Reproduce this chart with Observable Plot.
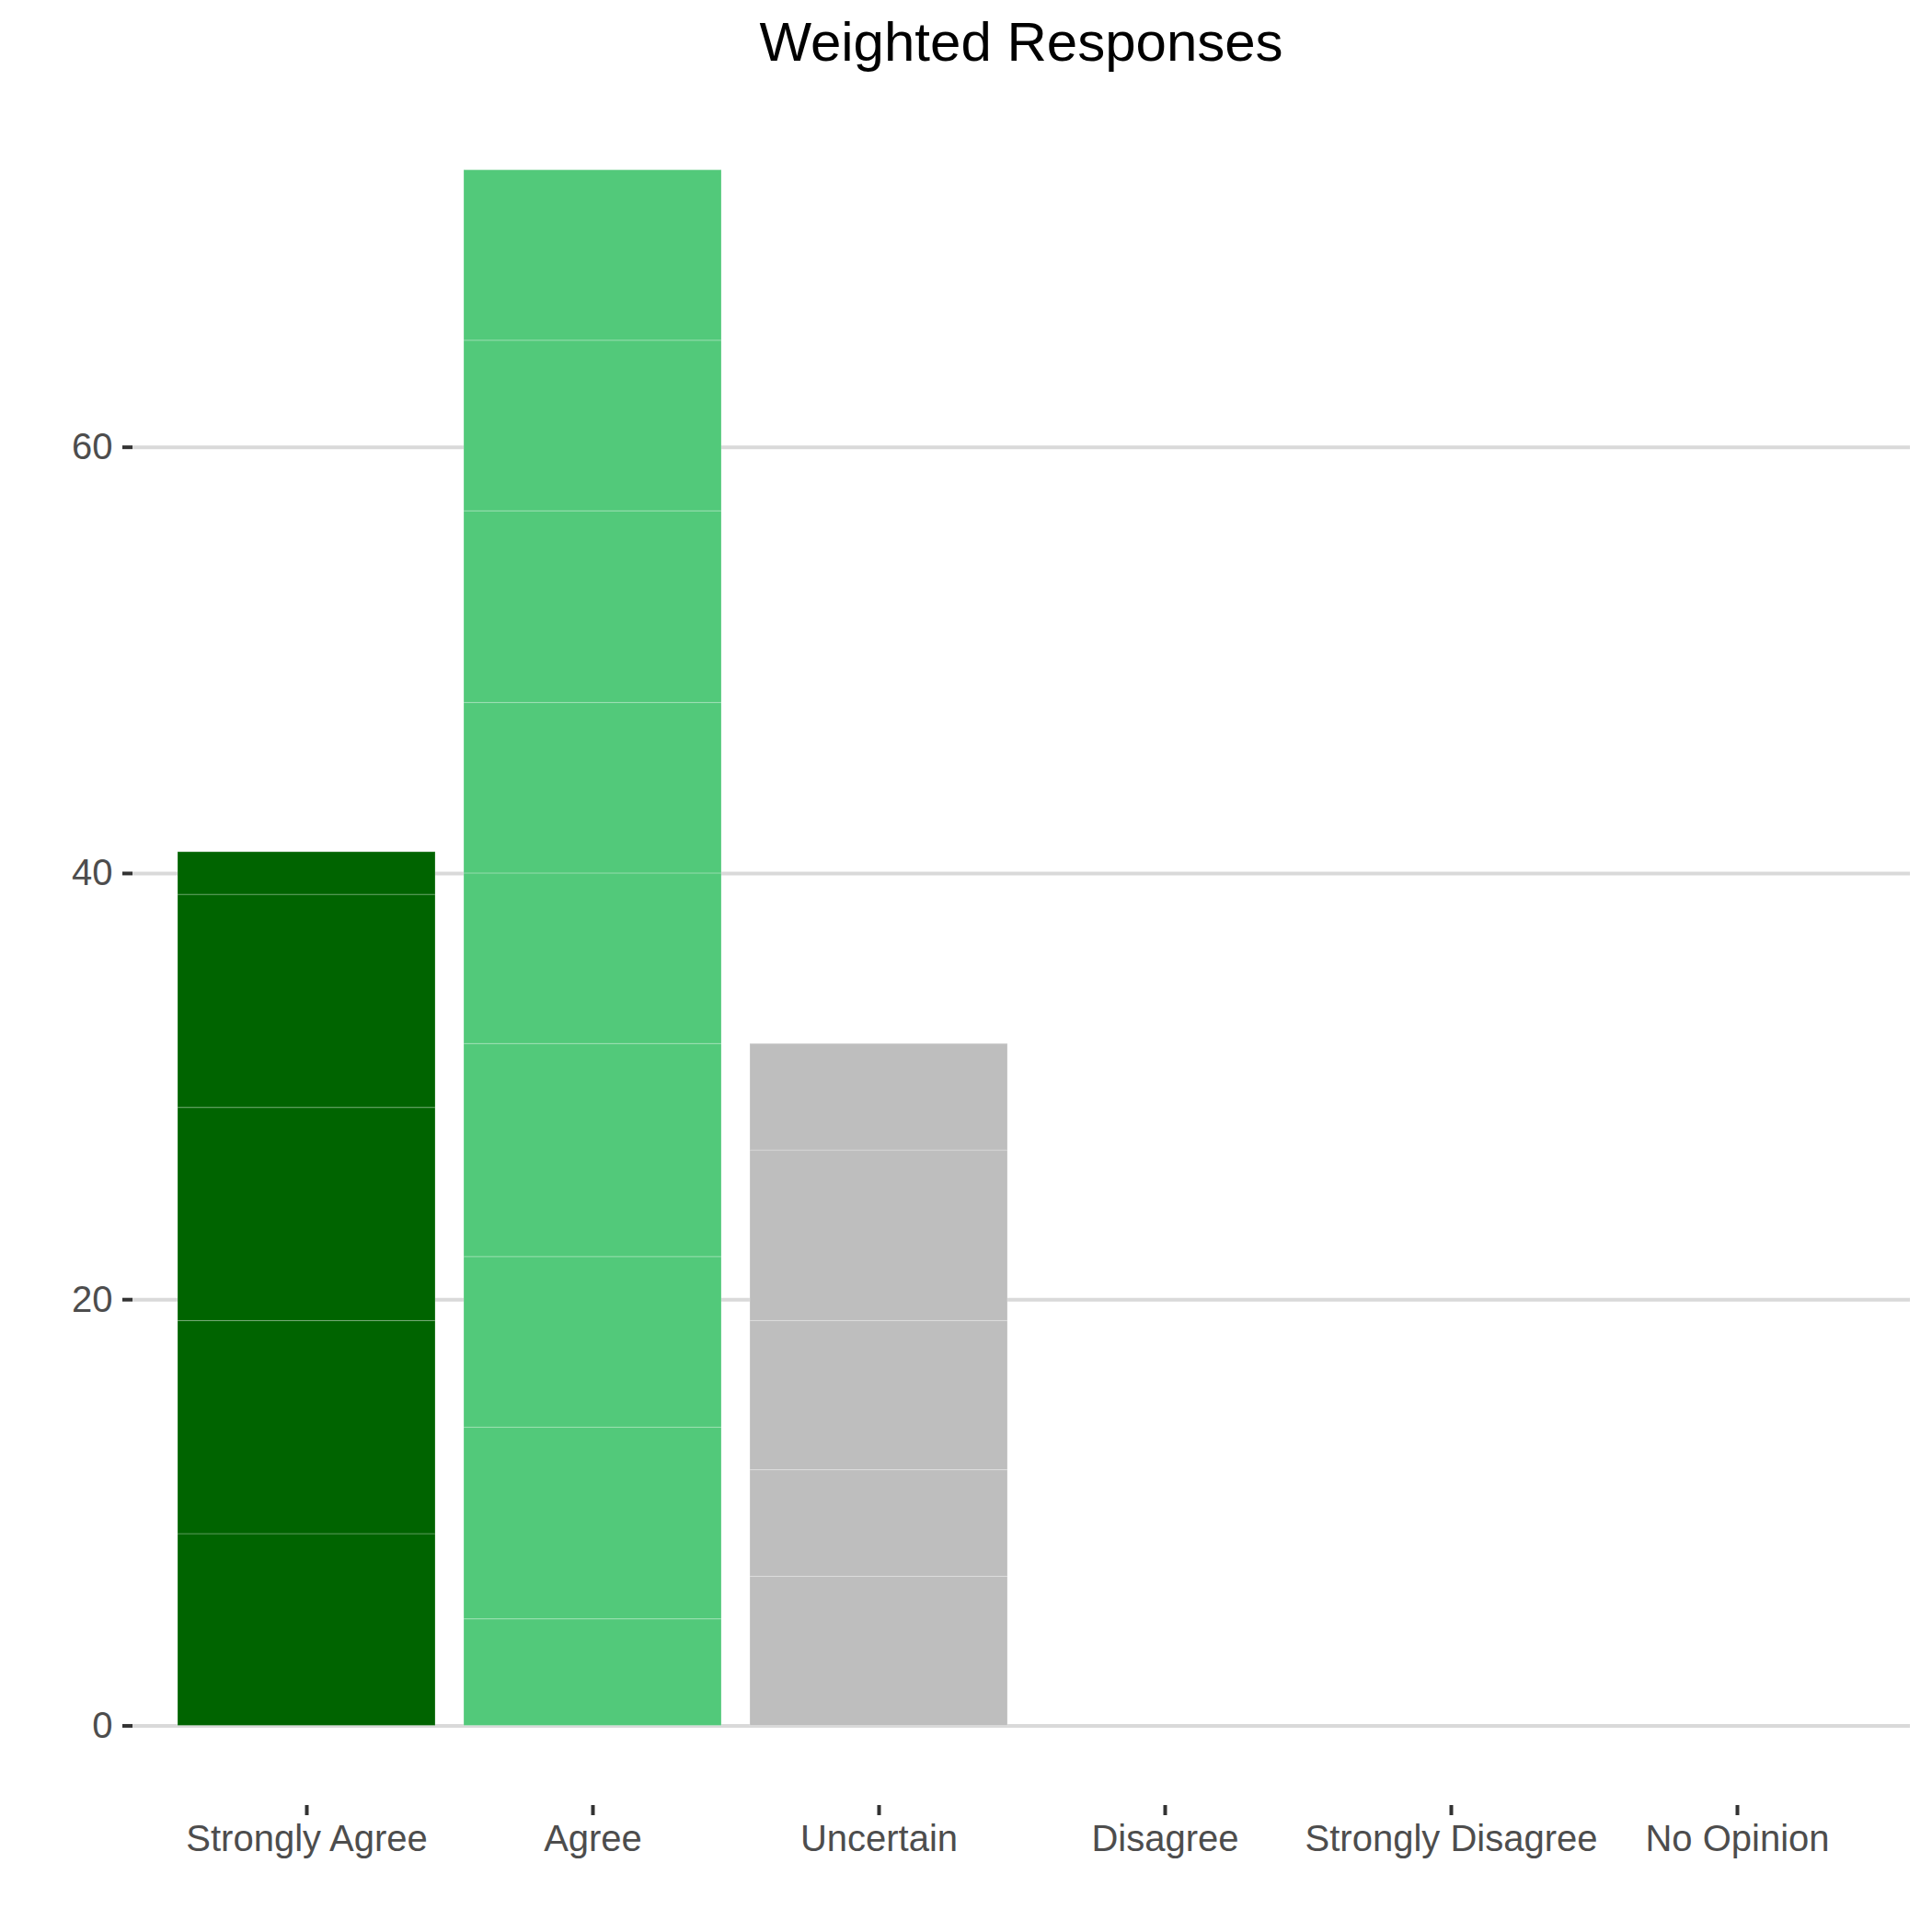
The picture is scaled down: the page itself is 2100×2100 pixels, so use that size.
<!DOCTYPE html>
<html>
<head>
<meta charset="utf-8">
<script src="https://cdn.jsdelivr.net/npm/d3@7"></script>
<script src="https://cdn.jsdelivr.net/npm/@observablehq/plot@0.6"></script>
<style>
  html, body { margin: 0; padding: 0; background: #ffffff; }
  #wrap { position: relative; width: 2100px; height: 2100px; background: #ffffff; }
  #title { position: absolute; left: 1110px; top: 16px; transform: translateX(-50%);
           font-family: "Liberation Sans", Arial, sans-serif; font-size: 60px; line-height: 60px;
           color: #000000; white-space: nowrap; }
  #chart { position: absolute; left: 0; top: 100px; }
</style>
</head>
<body>
<div id="wrap">
  <div id="title">Weighted Responses</div>
  <div id="chart"></div>
</div>
<script>
// Categories (x axis)
const categories = ["Strongly Agree", "Agree", "Uncertain", "Disagree", "Strongly Disagree", "No Opinion"];
// Stacked segment values per category (bottom to top)
const stronglyAgreeSegments = [9, 10, 10, 10, 2];
const agreeSegments = [5, 9, 8, 10, 8, 8, 9, 8, 8];
const uncertainSegments = [7, 5, 7, 8, 5];
const disagreeSegments = [];
const stronglyDisagreeSegments = [];
const noOpinionSegments = [];
// Fill colours per category
const categoryColors = ["#006400", "#52C97A", "#BEBEBE", "#D7191C", "#8B0000", "#808080"];
// y tick values
const yTicks = [0, 20, 40, 60];

const segmentLists = [stronglyAgreeSegments, agreeSegments, uncertainSegments,
                      disagreeSegments, stronglyDisagreeSegments, noOpinionSegments];
const rows = [];
categories.forEach((c, i) => {
  segmentLists[i].forEach((v, j) => rows.push({category: c, value: v, seg: j}));
});

const chart = Plot.plot({
  width: 2100,
  height: 2000,
  marginLeft: 144,
  marginRight: 24,
  marginTop: 0,
  marginBottom: 140,
  style: {fontFamily: "'Liberation Sans', Arial, sans-serif", fontSize: "40px", color: "#4d4d4d", background: "#ffffff"},
  x: {domain: categories, paddingInner: 0.1, paddingOuter: 0.15, label: null},
  y: {domain: [-3.65, 76.65], label: null},
  color: {domain: categories, range: categoryColors},
  marks: [
    Plot.gridY(yTicks, {stroke: "#d9d9d9", strokeOpacity: 1, strokeWidth: 4}),
    Plot.barY(rows, {x: "category", y: "value", z: "seg", fill: "category",
                     stroke: "#ffffff", strokeOpacity: 0.25, strokeWidth: 1}),
    // y axis ticks
    Plot.axisY(yTicks, {tickSize: 11, text: null, color: "#333333", strokeWidth: 4, label: null}),
    // y axis labels
    Plot.axisY(yTicks, {tickSize: 0, tickPadding: 22, color: "#4d4d4d", label: null, fontSize: 40}),
    // x axis ticks
    Plot.axisX({tickSize: 11, text: null, color: "#333333", strokeWidth: 4, label: null, dy: 2}),
    // x axis labels
    Plot.axisX({tickSize: 0, tickPadding: 23, color: "#4d4d4d", label: null, fontSize: 40})
  ]
});
document.getElementById("chart").appendChild(chart);
</script>
</body>
</html>
